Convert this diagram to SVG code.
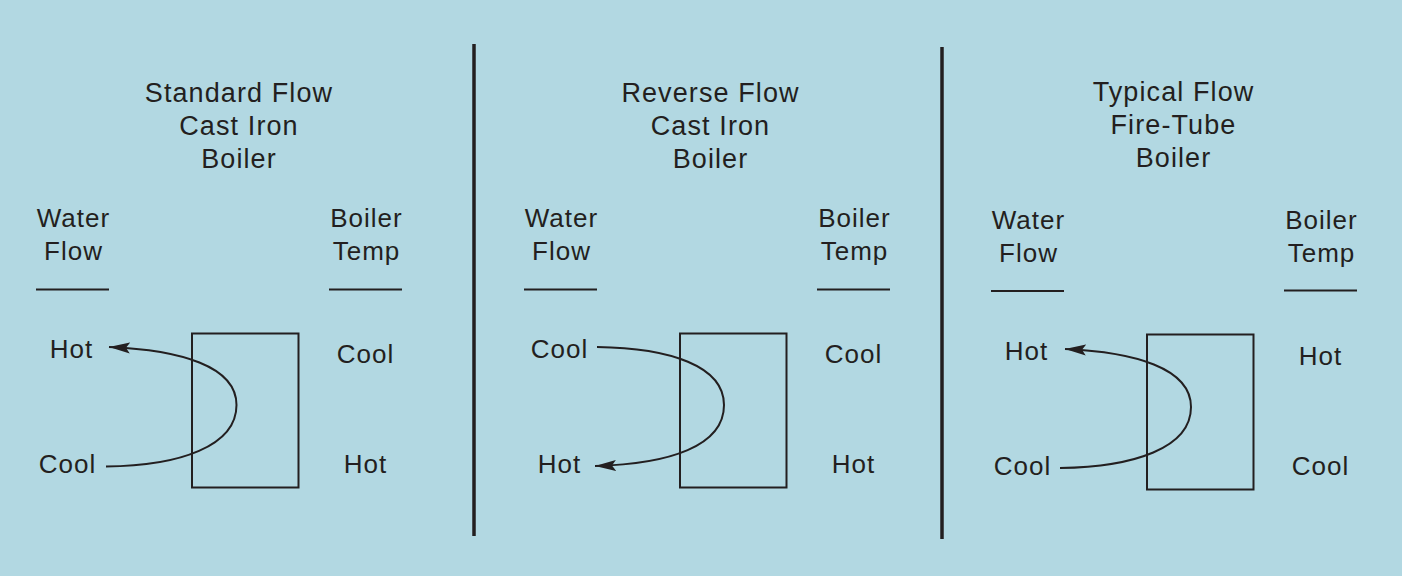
<svg xmlns="http://www.w3.org/2000/svg" width="1402" height="576" viewBox="0 0 1402 576">
<style>
text{font-family:"Liberation Sans",Arial,sans-serif;font-size:26px;fill:#231f20;text-anchor:middle;letter-spacing:1px}
text.t{font-size:27px;letter-spacing:1.1px}
.ln{stroke:#231f20;stroke-width:2;fill:none}
.div{stroke:#231f20;stroke-width:3.5}
.box{stroke:#231f20;stroke-width:2;fill:none}
.flow{stroke:#231f20;stroke-width:2;fill:none;marker-end:url(#ah)}
</style>
<defs>
<marker id="ah" markerUnits="userSpaceOnUse" markerWidth="24" markerHeight="14" refX="21" refY="6" orient="auto" viewBox="0 0 24 12">
<path d="M0,0.5 L21,6 L0,11.5 L4,6 Z" fill="#231f20"/>
</marker>
</defs>
<rect width="1402" height="576" fill="#b2d8e2"/>
<g id="dividers">
<line class="div" x1="474" y1="44" x2="474" y2="536"/>
<line class="div" x1="942" y1="47" x2="942" y2="539"/>
</g>
<g id="panel1">
<text class="t" x="239" y="102">Standard Flow</text>
<text class="t" x="239" y="135">Cast Iron</text>
<text class="t" x="239" y="168">Boiler</text>
<text x="73.5" y="227">Water</text>
<text x="73.5" y="260">Flow</text>
<line class="ln" x1="36" y1="289.5" x2="109" y2="289.5"/>
<text x="366.5" y="227">Boiler</text>
<text x="366.5" y="260">Temp</text>
<line class="ln" x1="329" y1="289.5" x2="402" y2="289.5"/>
<text x="71.5" y="358">Hot</text>
<text x="67.5" y="473">Cool</text>
<text x="365.5" y="363">Cool</text>
<text x="365.5" y="473">Hot</text>
<rect class="box" x="192" y="333.5" width="106.5" height="154"/>
</g>
<g id="panel2">
<text class="t" x="710.5" y="102">Reverse Flow</text>
<text class="t" x="710.5" y="135">Cast Iron</text>
<text class="t" x="710.5" y="168">Boiler</text>
<text x="561.5" y="227">Water</text>
<text x="561.5" y="260">Flow</text>
<line class="ln" x1="524" y1="289.5" x2="597" y2="289.5"/>
<text x="854.5" y="227">Boiler</text>
<text x="854.5" y="260">Temp</text>
<line class="ln" x1="817" y1="289.5" x2="890" y2="289.5"/>
<text x="559.5" y="358">Cool</text>
<text x="559.5" y="473">Hot</text>
<text x="853.5" y="363">Cool</text>
<text x="853.5" y="473">Hot</text>
<rect class="box" x="680" y="333.5" width="106.5" height="154"/>
</g>
<g id="panel3">
<text class="t" x="1173.5" y="101">Typical Flow</text>
<text class="t" x="1173.5" y="134">Fire-Tube</text>
<text class="t" x="1173.5" y="167">Boiler</text>
<text x="1028.5" y="229">Water</text>
<text x="1028.5" y="262">Flow</text>
<line class="ln" x1="991" y1="291" x2="1064" y2="291"/>
<text x="1321.5" y="229">Boiler</text>
<text x="1321.5" y="262">Temp</text>
<line class="ln" x1="1284" y1="290.5" x2="1357" y2="290.5"/>
<text x="1026.5" y="360">Hot</text>
<text x="1022.5" y="475">Cool</text>
<text x="1320.5" y="365">Hot</text>
<text x="1320.5" y="475">Cool</text>
<rect class="box" x="1147" y="334.5" width="106.5" height="155"/>
</g>
<g id="connectors">
<path class="flow" d="M106,466.5 C180,466 236.5,446 236.5,405 C236.5,366 180,350 109,347"/>
<path class="flow" d="M597,347 C670,348 724,366 724,405 C724,446 670,464 595,466"/>
<path class="flow" d="M1060,468 C1134,467 1191,448 1191,407 C1191,368 1134,352 1065,349"/>
</g>
</svg>
